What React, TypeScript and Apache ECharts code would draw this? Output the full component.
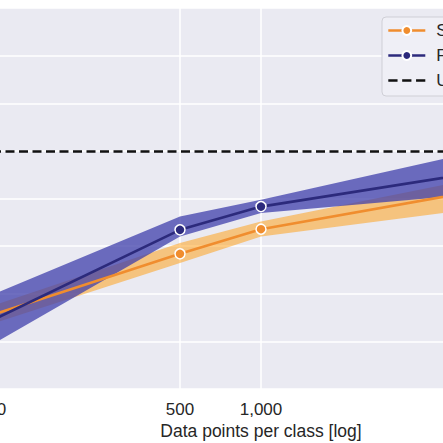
import React, { useEffect, useRef } from "react";
import * as echarts from "echarts";

// Training-set sizes (data points per class) and accuracy results
const dataPoints = [100, 500, 1000, 10000];
const syntheticMean = [72.76, 79.19, 81.78, 86.79];
const syntheticLow = [71.84, 78.24, 81.0, 84.68];
const syntheticHigh = [73.73, 80.34, 82.58, 88.27];
const fineTunedMean = [72.2, 81.71, 84.15, 88.6];
const fineTunedLow = [69.67, 81.0, 83.49, 85.97];
const fineTunedHigh = [74.88, 83.1, 84.86, 91.18];
const upperBound = 90;
const xTicks = [100, 500, 1000, 10000];
const seriesNames = ["Synthetic", "Fine-tuned", "Upper bound"];

const ORANGE = "#f08d2e";
const NAVY = "#2c2a7c";
const FONT = '"Liberation Sans", Arial, sans-serif';

// three dashes, used as the legend handle of the dashed reference line
const DASH_ICON = "path://M0,0h9v2.5h-9z M13.5,0h9v2.5h-9z M27,0h9v2.5h-9z";

const toLog = (n: number) => Math.log10(n);

function bandSeries(low: number[], high: number[], fill: string, z: number) {
  return {
    type: "custom",
    silent: true,
    z,
    data: dataPoints.map((n, i) => [toLog(n), low[i], high[i]]),
    renderItem: (params: any, api: any) => {
      if (params.dataIndex !== 0) return null;
      const pts: number[][] = [];
      dataPoints.forEach((n, i) => pts.push(api.coord([toLog(n), high[i]])));
      for (let i = dataPoints.length - 1; i >= 0; i--) {
        pts.push(api.coord([toLog(dataPoints[i]), low[i]]));
      }
      return { type: "polygon", shape: { points: pts }, style: { fill } };
    },
  };
}

function meanSeries(name: string, values: number[], color: string, z: number) {
  return {
    type: "line",
    name,
    z,
    data: dataPoints.map((n, i) => [toLog(n), values[i]]),
    symbol: "circle",
    symbolSize: 10,
    lineStyle: { color, width: 2.6 },
    itemStyle: { color, borderColor: "#ffffff", borderWidth: 1.5 },
  };
}

export default function App() {
  const ref = useRef<HTMLDivElement>(null);

  useEffect(() => {
    if (!ref.current) return;
    const chart = echarts.init(ref.current, undefined, { renderer: "svg" });
    const tickValues = xTicks.map(toLog);
    const dash = [9, 4.5];

    chart.setOption({
      animation: false,
      textStyle: { fontFamily: FONT },
      grid: {
        left: 65,
        top: 8,
        width: 592,
        height: 381,
        show: true,
        backgroundColor: "#eaeaf2",
        borderWidth: 0,
        containLabel: false,
        outerBoundsMode: "none",
      },
      xAxis: {
        type: "value",
        min: 1.9,
        max: 4.1,
        name: "Data points per class [log]",
        nameLocation: "middle",
        nameGap: 32,
        nameTextStyle: { fontSize: 17.5, color: "#262626", fontFamily: FONT },
        axisLine: { show: false },
        axisTick: { show: false, customValues: tickValues },
        axisLabel: {
          customValues: tickValues,
          formatter: (v: number) => Math.round(Math.pow(10, v)).toLocaleString("en-US"),
          fontSize: 17,
          color: "#262626",
          margin: 11.5,
          fontFamily: FONT,
        },
        splitLine: { show: true, lineStyle: { color: "#ffffff", width: 1.5 } },
      },
      yAxis: {
        type: "value",
        min: 65,
        max: 105,
        interval: 5,
        axisLine: { show: false },
        axisTick: { show: false },
        axisLabel: { fontSize: 17, color: "#262626", fontFamily: FONT },
        splitLine: { show: true, lineStyle: { color: "#ffffff", width: 1.5 } },
      },
      legend: {
        data: [
          { name: seriesNames[0] },
          { name: seriesNames[1] },
          { name: seriesNames[2], icon: DASH_ICON, itemStyle: { color: "#111111" } },
        ],
        orient: "vertical",
        left: 482,
        top: 17,
        padding: [5, 10, 7, 5],
        itemWidth: 37,
        itemHeight: 11,
        itemGap: 8,
        symbolKeepAspect: true,
        lineStyle: { width: 2.6 },
        backgroundColor: "rgba(240,240,246,0.9)",
        borderColor: "#cfcfd6",
        borderWidth: 1,
        borderRadius: 4,
        textStyle: { fontSize: 17, color: "#262626", fontFamily: FONT, padding: [0, 0, 0, 6] },
      },
      series: [
        bandSeries(syntheticLow, syntheticHigh, "rgba(255,156,10,0.5)", 1),
        bandSeries(fineTunedLow, fineTunedHigh, "rgba(63,63,171,0.75)", 1),
        meanSeries(seriesNames[0], syntheticMean, ORANGE, 3),
        meanSeries(seriesNames[1], fineTunedMean, NAVY, 4),
        {
          type: "line",
          name: seriesNames[2],
          data: [],
          symbol: "none",
          z: 2,
          lineStyle: { color: "#111111", width: 2.5, type: dash },
          itemStyle: { color: "#111111" },
          markLine: {
            silent: true,
            symbol: "none",
            label: { show: false },
            lineStyle: { color: "#111111", width: 2.5, type: dash },
            data: [{ yAxis: upperBound }],
          },
        },
      ],
    });

    return () => chart.dispose();
  }, []);

  return (
    <div
      style={{
        position: "fixed",
        left: 0,
        top: 0,
        width: 443,
        height: 443,
        overflow: "hidden",
        background: "#ffffff",
      }}
    >
      <div
        ref={ref}
        style={{ position: "absolute", left: -100, top: 0, width: 700, height: 443 }}
      />
    </div>
  );
}
